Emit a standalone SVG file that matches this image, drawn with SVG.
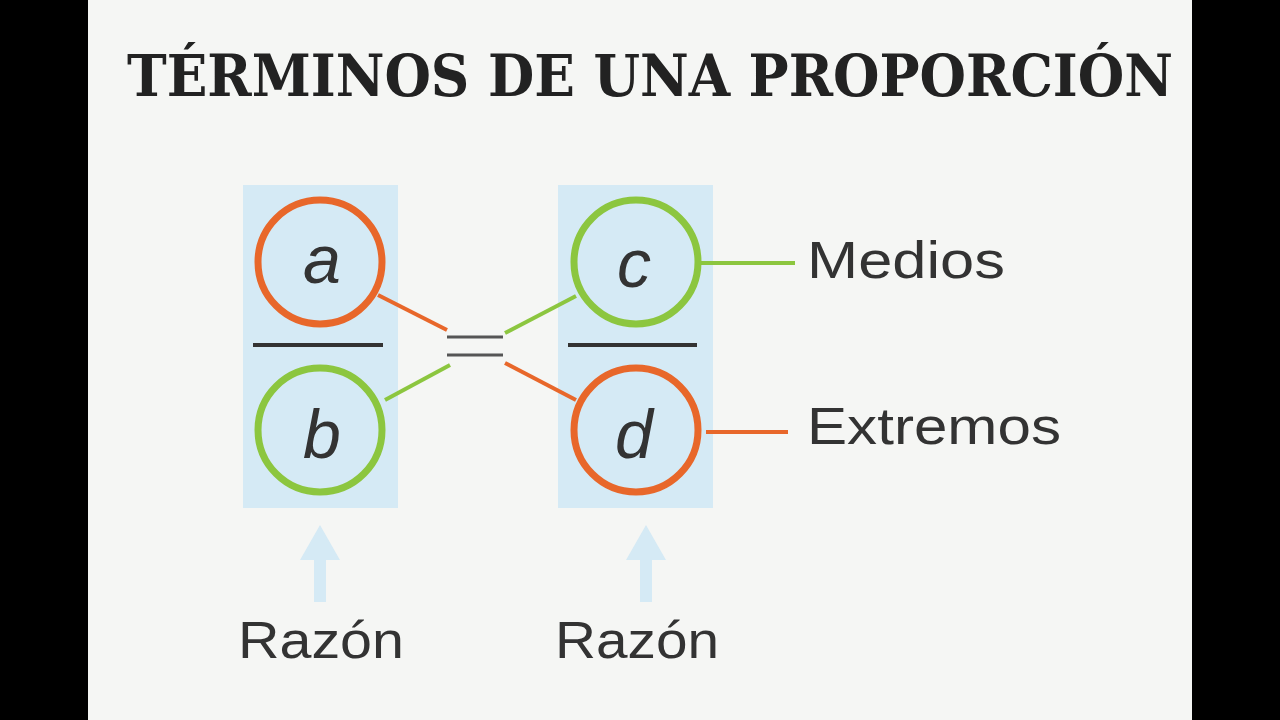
<svg xmlns="http://www.w3.org/2000/svg" width="1280" height="720" viewBox="0 0 1280 720">
<style>
.bg{fill:#f5f6f4}
.box{fill:#d5eaf5}
.or{fill:none;stroke:#e8672a;stroke-width:7}
.gr{fill:none;stroke:#8cc63f;stroke-width:7}
.ol{stroke:#e8672a;stroke-width:4}
.gl{stroke:#8cc63f;stroke-width:4}
.var{font-family:"Liberation Sans",Arial,sans-serif;font-style:italic;font-size:68px;fill:#333;text-anchor:middle}
.lab{font-family:"Liberation Sans",Arial,sans-serif;font-size:52px;fill:#333}
.arr{fill:#d5eaf5}
</style>
<rect width="1280" height="720" fill="#000"/>
<rect x="88" y="0" width="1104" height="720" class="bg"/>
<text x="650" y="96" text-anchor="middle" font-family="DejaVu Serif,serif" font-weight="bold" font-size="58" fill="#222" textLength="1046" lengthAdjust="spacingAndGlyphs">TÉRMINOS DE UNA PROPORCIÓN</text>
<g id="razon1"><rect class="box" x="243" y="185" width="155" height="323"/><line x1="253" y1="345" x2="383" y2="345" stroke="#333" stroke-width="4"/></g>
<g id="razon2"><rect class="box" x="558" y="185" width="155" height="323"/><line x1="568" y1="345" x2="697" y2="345" stroke="#333" stroke-width="4"/></g>
<g id="connectors">
<line class="ol" x1="378" y1="295" x2="447" y2="330"/>
<line class="gl" x1="385" y1="400" x2="450" y2="365"/>
<line class="gl" x1="576" y1="296" x2="505" y2="333"/>
<line class="ol" x1="576" y1="400" x2="505" y2="363"/>
<line class="gl" x1="700" y1="263" x2="795" y2="263"/>
<line class="ol" x1="706" y1="432" x2="788" y2="432"/>
</g>
<g id="equal" stroke="#555" stroke-width="3"><line x1="447" y1="337" x2="503" y2="337"/><line x1="447" y1="355" x2="503" y2="355"/></g>
<g id="a"><circle class="or" cx="320" cy="262" r="62"/><text class="var" x="322" y="283">a</text></g>
<g id="b"><circle class="gr" cx="320" cy="430" r="62"/><text class="var" x="322" y="458">b</text></g>
<g id="c"><circle class="gr" cx="636" cy="262" r="62"/><text class="var" x="634" y="287">c</text></g>
<g id="d"><circle class="or" cx="636" cy="430" r="62"/><text class="var" x="634" y="458">d</text></g>
<g id="medios"><text class="lab" x="807" y="278" textLength="198" lengthAdjust="spacingAndGlyphs">Medios</text></g>
<g id="extremos"><text class="lab" x="807" y="444" textLength="254" lengthAdjust="spacingAndGlyphs">Extremos</text></g>
<g id="arrow1"><polygon class="arr" points="320,525 340,560 326,560 326,602 314,602 314,560 300,560"/><text class="lab" x="321" y="658" text-anchor="middle" textLength="166" lengthAdjust="spacingAndGlyphs">Razón</text></g>
<g id="arrow2"><polygon class="arr" points="646,525 666,560 652,560 652,602 640,602 640,560 626,560"/><text class="lab" x="637" y="658" text-anchor="middle" textLength="164" lengthAdjust="spacingAndGlyphs">Razón</text></g>
</svg>
